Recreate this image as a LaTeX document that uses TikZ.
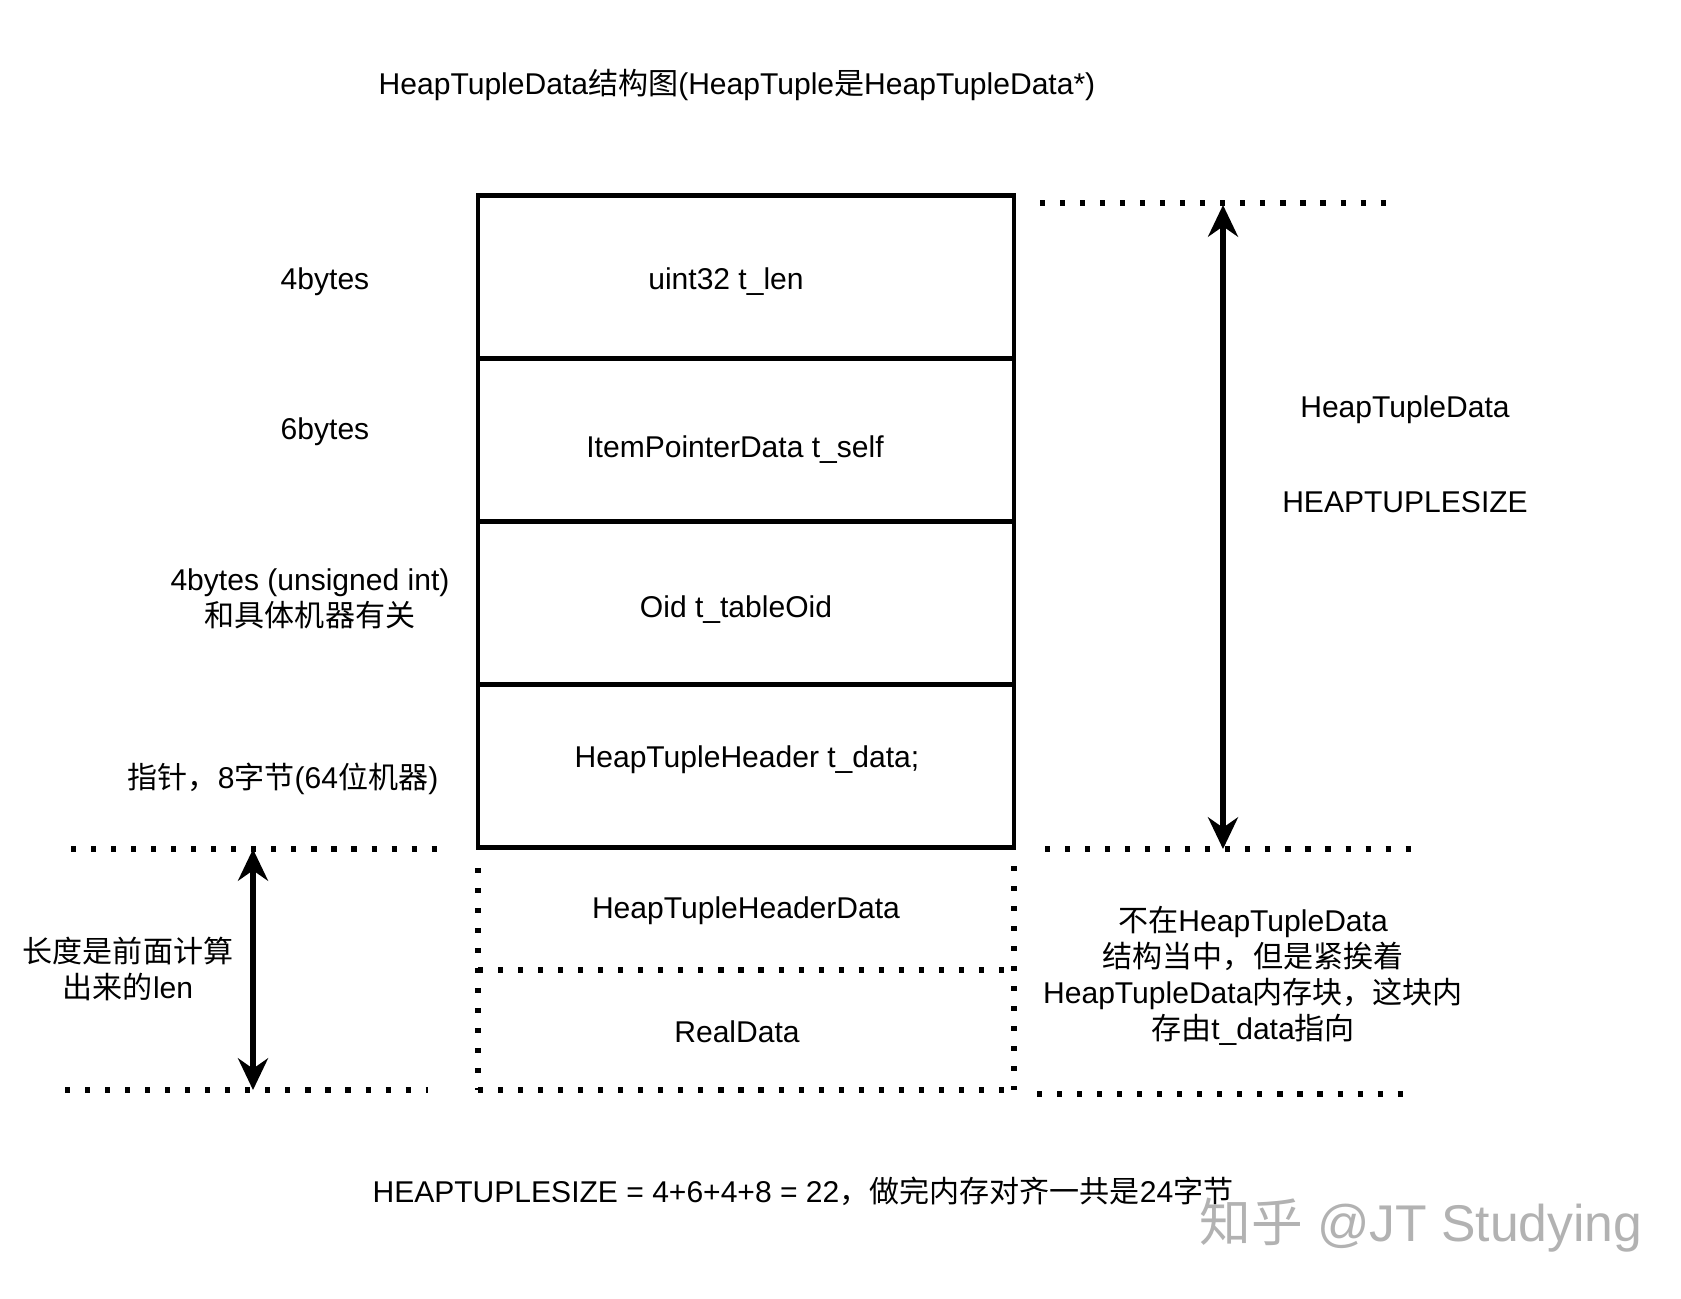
\documentclass[tikz,border=0pt]{standalone}
\usepackage{fontspec}
\setmainfont{Liberation Sans}
\newfontfamily\cjk{Noto Sans CJK SC}
\usetikzlibrary{arrows.meta, positioning}
\newcommand{\zh}[1]{{\cjk #1}}
\tikzset{
    label text/.style={align=center, inner sep=0pt, font=\fontsize{8.55}{10.2}\selectfont},
    row box/.style={draw, line width=1.4pt, minimum width=5.36cm, minimum height=1.63cm},
    dot line/.style={line width=1.45pt, dash pattern=on 1.45pt off 4.25pt},
    size arrow/.style={line width=1.5pt, {Stealth[length=9pt,width=8.5pt]}-{Stealth[length=9pt,width=8.5pt]}}
}

\begin{document}
\begin{tikzpicture}
    \useasboundingbox (0, 0) rectangle (16.81, -12.98);

    \node[row box] (len) at (7.46, -2.77) {};
    \node[row box] (self) at (7.46, -4.40) {};
    \node[row box] (oid) at (7.46, -6.03) {};
    \node[row box] (data) at (7.46, -7.66) {};

    \coordinate (tl) at (10.40, -2.03);
    \coordinate (tr) at (13.87, -2.03);
    \coordinate (ml) at (10.45, -8.49);
    \coordinate (mr) at (14.12, -8.49);
    \coordinate (bl) at (10.37, -10.94);
    \coordinate (br) at (14.04, -10.94);
    \coordinate (lml) at (0.71, -8.49);
    \coordinate (lmr) at (4.37, -8.49);
    \coordinate (lbl) at (0.65, -10.90);
    \coordinate (lbr) at (4.28, -10.90);
    \coordinate (nw) at (4.78, -8.68);
    \coordinate (ne) at (10.14, -8.66);
    \coordinate (w) at (4.78, -9.70);
    \coordinate (e) at (10.14, -9.70);
    \coordinate (sw) at (4.78, -10.90);
    \coordinate (se) at (10.14, -10.90);
    \coordinate (aup) at (12.23, -2.05);
    \coordinate (adown) at (12.23, -8.49);
    \coordinate (bup) at (2.53, -8.49);
    \coordinate (bdown) at (2.53, -10.90);

    \draw[dot line] (tl) to (tr)
        (ml) to (mr)
        (bl) to (br)
        (lml) to (lmr)
        (lbl) to (lbr)
        (w) to (e)
        (sw) to (se)
        (nw) to (sw)
        (ne) to (se);
    \draw[size arrow] (aup) to (adown);
    \draw[size arrow] (bup) to (bdown);

    \node[label text] (title) at (7.37, -0.85) {HeapTupleData\zh{结构图}(HeapTuple\zh{是}HeapTupleData*)};
    \node[label text] (lenbytes) at (3.25, -2.82) {4bytes};
    \node[label text] (lentext) at (7.26, -2.82) {uint32 t\_len};
    \node[label text] (selfbytes) at (3.25, -4.32) {6bytes};
    \node[label text] (selftext) at (7.35, -4.50) {ItemPointerData t\_self};
    \node[label text] (oidbytes) at (3.10, -5.99) {4bytes (unsigned int)\\\zh{和具体机器有关}};
    \node[label text] (oidtext) at (7.36, -6.10) {Oid t\_tableOid};
    \node[label text] (databytes) at (2.83, -7.79) {\zh{指针，}8\zh{字节}(64\zh{位机器})};
    \node[label text] (datatext) at (7.47, -7.60) {HeapTupleHeader t\_data;};
    \node[label text] (header) at (7.46, -9.11) {HeapTupleHeaderData};
    \node[label text] (real) at (7.37, -10.32) {RealData};
    \node[label text] (lentotal) at (1.28, -9.69) {\zh{长度是前面计算}\\\zh{出来的}len};
    \node[label text] (tuplename) at (14.05, -4.10) {HeapTupleData};
    \node[label text] (tuplesize) at (14.05, -5.02) {HEAPTUPLESIZE};
    \node[label text] (note) at (12.53, -9.76) {\zh{不在}HeapTupleData\\\zh{结构当中，但是紧挨着}\\HeapTupleData\zh{内存块，这块内}\\\zh{存由}t\_data\zh{指向}};
    \node[label text] (sum) at (8.03, -11.91) {HEAPTUPLESIZE = 4+6+4+8 = 22\zh{，做完内存对齐一共是}24\zh{字节}};
    \node[inner sep=0pt, text=black!30, font=\fontsize{14.7}{16}\selectfont] (mark) at (14.21, -12.25) {\zh{知乎} @JT Studying};
\end{tikzpicture}
\end{document}
